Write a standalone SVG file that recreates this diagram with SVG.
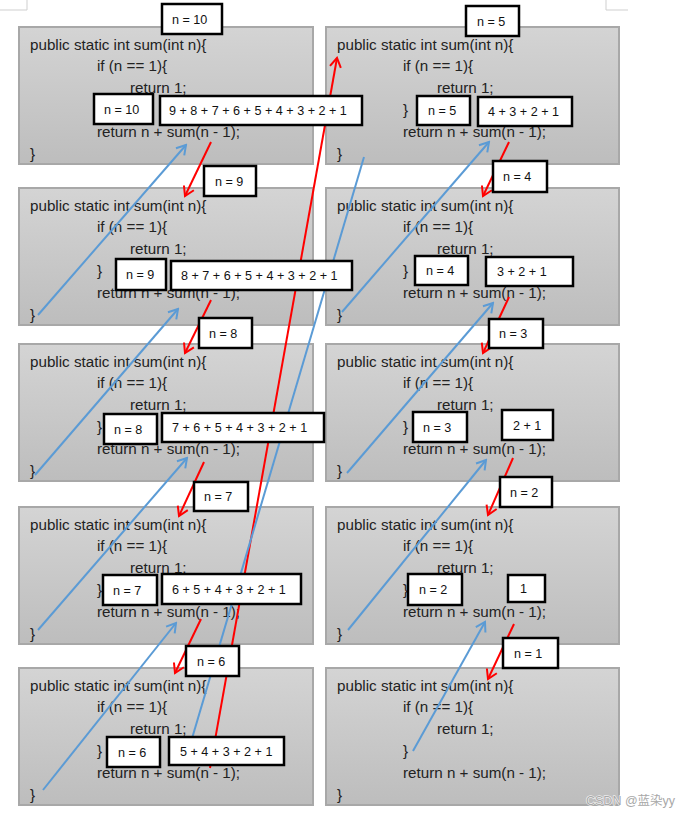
<svg xmlns="http://www.w3.org/2000/svg" width="693" height="817" viewBox="0 0 693 817">
  <defs>
    <linearGradient id="panelGrad" x1="0" y1="0" x2="0" y2="1">
      <stop offset="0" stop-color="#d4d4d4"/>
      <stop offset="1" stop-color="#bdbdbd"/>
    </linearGradient>
    <marker id="arrRed" markerUnits="userSpaceOnUse" markerWidth="14" markerHeight="14" viewBox="0 0 14 14" refX="12" refY="7" orient="auto">
      <path d="M3,1.5 L12,7 L3,12.5" fill="none" stroke="#ff0000" stroke-width="2"/>
    </marker>
    <marker id="arrBlue" markerUnits="userSpaceOnUse" markerWidth="14" markerHeight="14" viewBox="0 0 14 14" refX="12" refY="7" orient="auto">
      <path d="M3,1.5 L12,7 L3,12.5" fill="none" stroke="#5b9bd5" stroke-width="2"/>
    </marker>
  </defs>
  <style>
    .panel { fill: url(#panelGrad); stroke: #a8a8a8; stroke-width: 2; }
    .code { font-family: "Liberation Sans", Arial, sans-serif; font-size: 15.2px; fill: #222222; }
    .lbl rect { fill: #ffffff; stroke: #000000; stroke-width: 2.5; }
    .lbl text { font-family: "Liberation Sans", Arial, sans-serif; font-size: 12.6px; fill: #111111; }
    .red { stroke: #ff0000; stroke-width: 2; fill: none; marker-end: url(#arrRed); }
    .blue { stroke: #5b9bd5; stroke-width: 2; fill: none; marker-end: url(#arrBlue); }
    .mark { stroke: #cfcfcf; stroke-width: 1; fill: none; }
  </style>

  <rect x="0" y="0" width="693" height="817" fill="#ffffff"/>
  <g id="page-marks">
    <polyline class="mark" points="27,0 27,10 0,10"/>
    <polyline class="mark" points="606,0 606,10 628,10"/>
  </g>

  <!-- Left column panels -->
  <g id="panel-L1">
    <rect class="panel" x="19" y="27" width="294" height="137"/>
    <text class="code" x="30" y="49.5">public static int sum(int n){</text>
    <text class="code" x="97" y="71.3">if (n == 1){</text>
    <text class="code" x="130" y="93.1">return 1;</text>
    <text class="code" x="97" y="114.9">}</text>
    <text class="code" x="97" y="136.7">return n + sum(n - 1);</text>
    <text class="code" x="30" y="158.5">}</text>
  </g>
  <g id="panel-L2">
    <rect class="panel" x="19" y="188" width="294" height="137"/>
    <text class="code" x="30" y="210.5">public static int sum(int n){</text>
    <text class="code" x="97" y="232.3">if (n == 1){</text>
    <text class="code" x="130" y="254.1">return 1;</text>
    <text class="code" x="97" y="275.9">}</text>
    <text class="code" x="97" y="297.7">return n + sum(n - 1);</text>
    <text class="code" x="30" y="319.5">}</text>
  </g>
  <g id="panel-L3">
    <rect class="panel" x="19" y="344" width="294" height="137"/>
    <text class="code" x="30" y="366.5">public static int sum(int n){</text>
    <text class="code" x="97" y="388.3">if (n == 1){</text>
    <text class="code" x="130" y="410.1">return 1;</text>
    <text class="code" x="97" y="431.9">}</text>
    <text class="code" x="97" y="453.7">return n + sum(n - 1);</text>
    <text class="code" x="30" y="475.5">}</text>
  </g>
  <g id="panel-L4">
    <rect class="panel" x="19" y="507" width="294" height="137"/>
    <text class="code" x="30" y="529.5">public static int sum(int n){</text>
    <text class="code" x="97" y="551.3">if (n == 1){</text>
    <text class="code" x="130" y="573.1">return 1;</text>
    <text class="code" x="97" y="594.9">}</text>
    <text class="code" x="97" y="616.7">return n + sum(n - 1);</text>
    <text class="code" x="30" y="638.5">}</text>
  </g>
  <g id="panel-L5">
    <rect class="panel" x="19" y="668" width="294" height="137"/>
    <text class="code" x="30" y="690.5">public static int sum(int n){</text>
    <text class="code" x="97" y="712.3">if (n == 1){</text>
    <text class="code" x="130" y="734.1">return 1;</text>
    <text class="code" x="97" y="755.9">}</text>
    <text class="code" x="97" y="777.7">return n + sum(n - 1);</text>
    <text class="code" x="30" y="799.5">}</text>
  </g>

  <!-- Right column panels -->
  <g id="panel-R1">
    <rect class="panel" x="326" y="27" width="293" height="137"/>
    <text class="code" x="337" y="49.5">public static int sum(int n){</text>
    <text class="code" x="403" y="71.3">if (n == 1){</text>
    <text class="code" x="437" y="93.1">return 1;</text>
    <text class="code" x="403" y="114.9">}</text>
    <text class="code" x="403" y="136.7">return n + sum(n - 1);</text>
    <text class="code" x="337" y="158.5">}</text>
  </g>
  <g id="panel-R2">
    <rect class="panel" x="326" y="188" width="293" height="137"/>
    <text class="code" x="337" y="210.5">public static int sum(int n){</text>
    <text class="code" x="403" y="232.3">if (n == 1){</text>
    <text class="code" x="437" y="254.1">return 1;</text>
    <text class="code" x="403" y="275.9">}</text>
    <text class="code" x="403" y="297.7">return n + sum(n - 1);</text>
    <text class="code" x="337" y="319.5">}</text>
  </g>
  <g id="panel-R3">
    <rect class="panel" x="326" y="344" width="293" height="137"/>
    <text class="code" x="337" y="366.5">public static int sum(int n){</text>
    <text class="code" x="403" y="388.3">if (n == 1){</text>
    <text class="code" x="437" y="410.1">return 1;</text>
    <text class="code" x="403" y="431.9">}</text>
    <text class="code" x="403" y="453.7">return n + sum(n - 1);</text>
    <text class="code" x="337" y="475.5">}</text>
  </g>
  <g id="panel-R4">
    <rect class="panel" x="326" y="507" width="293" height="137"/>
    <text class="code" x="337" y="529.5">public static int sum(int n){</text>
    <text class="code" x="403" y="551.3">if (n == 1){</text>
    <text class="code" x="437" y="573.1">return 1;</text>
    <text class="code" x="403" y="594.9">}</text>
    <text class="code" x="403" y="616.7">return n + sum(n - 1);</text>
    <text class="code" x="337" y="638.5">}</text>
  </g>
  <g id="panel-R5">
    <rect class="panel" x="326" y="668" width="293" height="137"/>
    <text class="code" x="337" y="690.5">public static int sum(int n){</text>
    <text class="code" x="403" y="712.3">if (n == 1){</text>
    <text class="code" x="437" y="734.1">return 1;</text>
    <text class="code" x="403" y="755.9">}</text>
    <text class="code" x="403" y="777.7">return n + sum(n - 1);</text>
    <text class="code" x="337" y="799.5">}</text>
  </g>

  <!-- Connectors -->
  <g id="connectors">
    <line class="red" x1="211" y1="142" x2="185" y2="196"/>
    <line class="red" x1="211" y1="300" x2="185" y2="353"/>
    <line class="red" x1="204" y1="462" x2="179" y2="516"/>
    <line class="red" x1="201" y1="619" x2="175" y2="673"/>
    <line class="red" x1="210" y1="768" x2="337" y2="58"/>
    <line class="red" x1="509" y1="142" x2="483" y2="196"/>
    <line class="red" x1="509" y1="297" x2="483" y2="353"/>
    <line class="red" x1="513" y1="458" x2="488" y2="515"/>
    <line class="red" x1="514" y1="624" x2="488" y2="679"/>

    <line class="blue" x1="38" y1="315" x2="186" y2="145"/>
    <line class="blue" x1="35" y1="475" x2="178" y2="309"/>
    <line class="blue" x1="38" y1="630" x2="187" y2="458"/>
    <line class="blue" x1="43" y1="790" x2="176" y2="623"/>
    <line class="blue" x1="364" y1="157" x2="188" y2="752"/>
    <line class="blue" x1="342" y1="312" x2="489" y2="142"/>
    <line class="blue" x1="347" y1="473" x2="493" y2="303"/>
    <line class="blue" x1="348" y1="630" x2="486" y2="460"/>
    <line class="blue" x1="413" y1="751" x2="485" y2="622"/>
  </g>

  <!-- Labels -->
  <g id="lbl-top-n10" class="lbl"><rect x="162" y="4" width="60" height="30"/><text x="172" y="23.5">n = 10</text></g>
  <g id="lbl-n10" class="lbl"><rect x="94" y="94" width="59" height="30"/><text x="104" y="113.5">n = 10</text></g>
  <g id="lbl-sum9" class="lbl"><rect x="160" y="96" width="202" height="29"/><text x="169" y="115">9 + 8 + 7 + 6 + 5 + 4 + 3 + 2 + 1</text></g>
  <g id="lbl-call-n9" class="lbl"><rect x="204" y="166" width="52" height="30"/><text x="215" y="185.5">n = 9</text></g>

  <g id="lbl-n9" class="lbl"><rect x="116" y="259" width="50" height="31"/><text x="126" y="279">n = 9</text></g>
  <g id="lbl-sum8" class="lbl"><rect x="171" y="261" width="181" height="29"/><text x="181" y="280">8 + 7 + 6 + 5 + 4 + 3 + 2 + 1</text></g>
  <g id="lbl-call-n8" class="lbl"><rect x="199" y="318" width="53" height="30"/><text x="209" y="337.5">n = 8</text></g>

  <g id="lbl-n8" class="lbl"><rect x="104" y="414" width="53" height="30"/><text x="114" y="433.5">n = 8</text></g>
  <g id="lbl-sum7" class="lbl"><rect x="162" y="413" width="162" height="29"/><text x="172" y="432">7 + 6 + 5 + 4 + 3 + 2 + 1</text></g>
  <g id="lbl-call-n7" class="lbl"><rect x="194" y="482" width="54" height="29"/><text x="204" y="501">n = 7</text></g>

  <g id="lbl-n7" class="lbl"><rect x="103" y="575" width="54" height="30"/><text x="113" y="594.5">n = 7</text></g>
  <g id="lbl-sum6" class="lbl"><rect x="162" y="574" width="139" height="30"/><text x="172" y="593.5">6 + 5 + 4 + 3 + 2 + 1</text></g>
  <g id="lbl-call-n6" class="lbl"><rect x="186" y="646" width="53" height="30"/><text x="197" y="665.5">n = 6</text></g>

  <g id="lbl-n6" class="lbl"><rect x="107" y="737" width="53" height="30"/><text x="118" y="756.5">n = 6</text></g>
  <g id="lbl-sum5" class="lbl"><rect x="169" y="737" width="115" height="28"/><text x="180" y="755.5">5 + 4 + 3 + 2 + 1</text></g>

  <g id="lbl-top-n5" class="lbl"><rect x="466" y="6" width="53" height="30"/><text x="477" y="25.5">n = 5</text></g>
  <g id="lbl-n5" class="lbl"><rect x="417" y="96" width="53" height="29"/><text x="428" y="115">n = 5</text></g>
  <g id="lbl-sum4" class="lbl"><rect x="478" y="97" width="94" height="29"/><text x="488" y="116">4 + 3 + 2 + 1</text></g>
  <g id="lbl-call-n4" class="lbl"><rect x="493" y="161" width="54" height="31"/><text x="503" y="181">n = 4</text></g>

  <g id="lbl-n4" class="lbl"><rect x="415" y="256" width="53" height="29"/><text x="426" y="275">n = 4</text></g>
  <g id="lbl-sum3" class="lbl"><rect x="486" y="257" width="87" height="29"/><text x="497" y="276">3 + 2 + 1</text></g>
  <g id="lbl-call-n3" class="lbl"><rect x="489" y="319" width="54" height="29"/><text x="499" y="338">n = 3</text></g>

  <g id="lbl-n3" class="lbl"><rect x="413" y="412" width="54" height="30"/><text x="423" y="431.5">n = 3</text></g>
  <g id="lbl-sum2" class="lbl"><rect x="502" y="410" width="51" height="30"/><text x="513" y="429.5">2 + 1</text></g>
  <g id="lbl-call-n2" class="lbl"><rect x="500" y="477" width="52" height="30"/><text x="510" y="496.5">n = 2</text></g>

  <g id="lbl-n2" class="lbl"><rect x="408" y="574" width="54" height="31"/><text x="419" y="594">n = 2</text></g>
  <g id="lbl-sum1" class="lbl"><rect x="508" y="575" width="37" height="27"/><text x="520" y="593">1</text></g>
  <g id="lbl-call-n1" class="lbl"><rect x="503" y="638" width="55" height="30"/><text x="514" y="657.5">n = 1</text></g>

  <g id="watermark">
    <text x="586" y="804.5" font-family="'Liberation Sans', 'Noto Sans CJK SC', sans-serif" font-size="12.5" fill="#a8a8a8" stroke="#ffffff" stroke-width="1" paint-order="stroke">CSDN @蓝染yy</text>
  </g>
</svg>
